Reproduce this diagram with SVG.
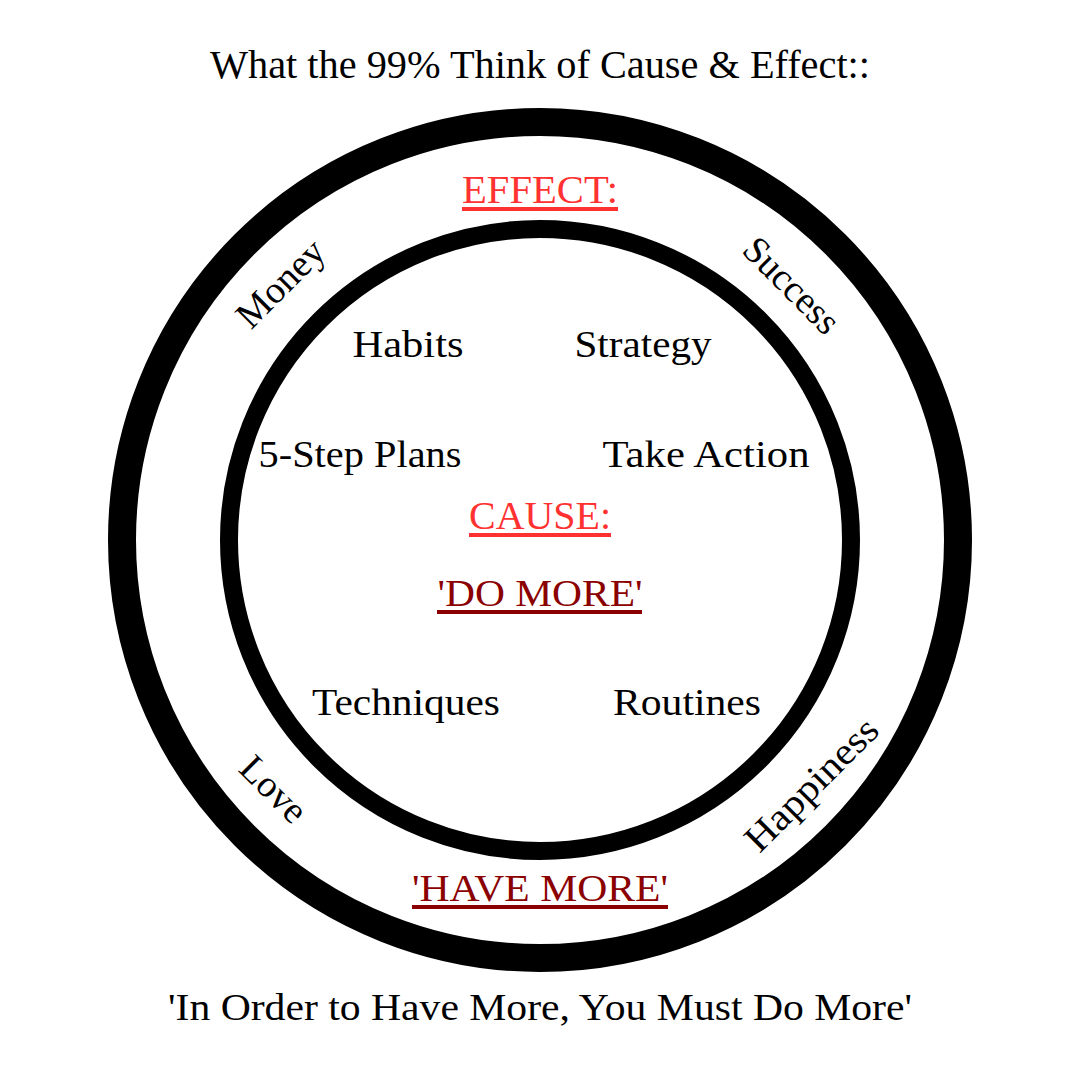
<svg xmlns="http://www.w3.org/2000/svg" width="1080" height="1080" viewBox="0 0 1080 1080">
<style>
text{font-family:"Liberation Serif","DejaVu Serif",serif;fill:#000;text-anchor:middle}
.t{font-size:38px}
.red{fill:#ff3131;font-size:40px}
.dred{fill:#8b0000;font-size:38px}
.ur{fill:#ff3131}
.ud{fill:#8b0000}
</style>
<rect width="1080" height="1080" fill="#fff"/>
<g id="rings">
<circle id="outer-ring" cx="540" cy="540" r="418" fill="none" stroke="#000" stroke-width="28"/>
<circle id="inner-ring" cx="540" cy="540" r="311" fill="none" stroke="#000" stroke-width="18"/>
</g>
<g id="connectors"></g>
<g id="title"><text x="540" y="78" font-size="40" textLength="660" lengthAdjust="spacingAndGlyphs">What the 99% Think of Cause &amp; Effect::</text></g>
<g id="effect"><text class="red" x="540" y="203" textLength="156" lengthAdjust="spacingAndGlyphs">EFFECT:</text><rect class="ur" x="462" y="207" width="156" height="4"/></g>
<g id="money"><text class="t" transform="translate(280,283) rotate(-45)" y="13" textLength="108" lengthAdjust="spacingAndGlyphs">Money</text></g>
<g id="success"><text class="t" transform="translate(792,285) rotate(45)" y="13" textLength="120" lengthAdjust="spacingAndGlyphs">Success</text></g>
<g id="habits"><text class="t" x="408" y="357" textLength="111" lengthAdjust="spacingAndGlyphs">Habits</text></g>
<g id="strategy"><text class="t" x="643" y="357" textLength="137" lengthAdjust="spacingAndGlyphs">Strategy</text></g>
<g id="plans"><text class="t" x="360" y="467" textLength="203" lengthAdjust="spacingAndGlyphs">5-Step Plans</text></g>
<g id="action"><text class="t" x="706" y="467" textLength="207" lengthAdjust="spacingAndGlyphs">Take Action</text></g>
<g id="cause"><text class="red" x="540" y="529" textLength="142" lengthAdjust="spacingAndGlyphs">CAUSE:</text><rect class="ur" x="469" y="533" width="142" height="4"/></g>
<g id="domore"><text class="dred" x="540" y="606" textLength="205" lengthAdjust="spacingAndGlyphs">'DO MORE'</text><rect class="ud" x="437" y="610" width="205" height="4"/></g>
<g id="techniques"><text class="t" x="406" y="715" textLength="188" lengthAdjust="spacingAndGlyphs">Techniques</text></g>
<g id="routines"><text class="t" x="687" y="715" textLength="148" lengthAdjust="spacingAndGlyphs">Routines</text></g>
<g id="love"><text class="t" transform="translate(274,789) rotate(45)" y="13" textLength="78" lengthAdjust="spacingAndGlyphs">Love</text></g>
<g id="happiness"><text class="t" transform="translate(811,784) rotate(-45)" y="13" textLength="172" lengthAdjust="spacingAndGlyphs">Happiness</text></g>
<g id="havemore"><text class="dred" x="540" y="901" textLength="256" lengthAdjust="spacingAndGlyphs">'HAVE MORE'</text><rect class="ud" x="412" y="905" width="256" height="4"/></g>
<g id="footer"><text x="540" y="1020" font-size="38" textLength="744" lengthAdjust="spacingAndGlyphs">'In Order to Have More, You Must Do More'</text></g>
</svg>
